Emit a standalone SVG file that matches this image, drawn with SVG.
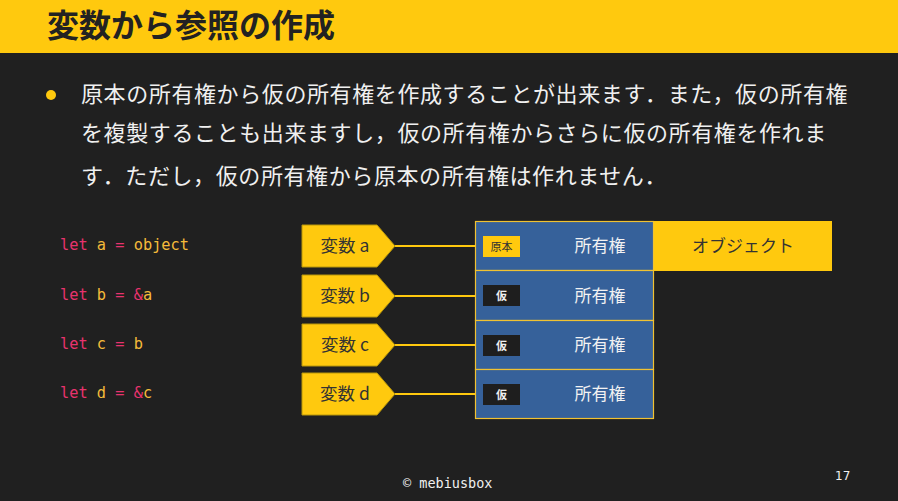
<svg xmlns="http://www.w3.org/2000/svg" width="898" height="501" viewBox="0 0 898 501">
<style>
.jp{font-family:"Noto Sans CJK JP","Noto Sans",sans-serif}
.code{font-family:"DejaVu Sans Mono","Liberation Mono",monospace;font-size:15.3px}
.kw{fill:#e8336e}
.id{fill:#f4bb3a}
.var{fill:#ffc90e;stroke:#b8960a;stroke-width:1}
.vt{font-size:17.5px;fill:#333;text-anchor:middle}
.own{fill:#36619a;stroke:#f1c232;stroke-width:1.2}
.ownt{font-size:17px;fill:#f2f2f2;text-anchor:middle}
.tag{font-size:11px;text-anchor:middle}
.conn{stroke:#ffc90e;stroke-width:2;fill:none}
</style>
<rect width="898" height="501" fill="#202020"/>
<rect x="0" y="0" width="898" height="53" fill="#ffc90e"/>
<text x="47" y="37" class="jp" font-size="32" font-weight="bold" fill="#222">変数から参照の作成</text>
<circle cx="51" cy="95" r="5" fill="#ffc90e"/>
<g class="jp" font-size="22" fill="#f0f0f0" letter-spacing="0.6">
<text x="81" y="102">原本の所有権から仮の所有権を作成することが出来ます．また，仮の所有権</text>
<text x="81" y="141">を複製することも出来ますし，仮の所有権からさらに仮の所有権を作れま</text>
<text x="81" y="184">す．ただし，仮の所有権から原本の所有権は作れません．</text>
</g>
<g id="code" class="code">
<text x="60" y="250"><tspan class="kw">let</tspan><tspan class="id"> a </tspan><tspan class="kw">=</tspan><tspan class="id"> object</tspan></text>
<text x="60" y="300"><tspan class="kw">let</tspan><tspan class="id"> b </tspan><tspan class="kw">= &amp;</tspan><tspan class="id">a</tspan></text>
<text x="60" y="349"><tspan class="kw">let</tspan><tspan class="id"> c </tspan><tspan class="kw">=</tspan><tspan class="id"> b</tspan></text>
<text x="60" y="398"><tspan class="kw">let</tspan><tspan class="id"> d </tspan><tspan class="kw">= &amp;</tspan><tspan class="id">c</tspan></text>
</g>
<g id="connectors">
<line class="conn" x1="395" y1="246" x2="476" y2="246"/>
<line class="conn" x1="395" y1="296" x2="476" y2="296"/>
<line class="conn" x1="395" y1="345" x2="476" y2="345"/>
<line class="conn" x1="395" y1="394" x2="476" y2="394"/>
</g>
<g id="var-a"><path class="var" d="M302 225H377L395 246L377 267H302Z"/><text x="345" y="252" class="jp vt">変数 a</text></g>
<g id="var-b"><path class="var" d="M302 275H377L395 296L377 317H302Z"/><text x="345" y="302" class="jp vt">変数 b</text></g>
<g id="var-c"><path class="var" d="M302 324H377L395 345L377 366H302Z"/><text x="345" y="351" class="jp vt">変数 c</text></g>
<g id="var-d"><path class="var" d="M302 373H377L395 394L377 415H302Z"/><text x="345" y="400" class="jp vt">変数 d</text></g>
<g id="own-a"><rect class="own" x="475.5" y="221.5" width="178" height="49"/><rect x="483" y="236" width="37" height="21" fill="#ffc90e"/><text x="501.5" y="250.5" class="jp tag" fill="#333">原本</text><text x="600" y="252" class="jp ownt">所有権</text></g>
<g id="own-b"><rect class="own" x="475.5" y="270.5" width="178" height="50"/><rect x="483" y="285" width="37" height="21" fill="#1e1e1e"/><text x="501.5" y="299.5" class="jp tag" fill="#f0f0f0" font-weight="bold">仮</text><text x="600" y="302" class="jp ownt">所有権</text></g>
<g id="own-c"><rect class="own" x="475.5" y="320.5" width="178" height="49"/><rect x="483" y="335" width="37" height="21" fill="#1e1e1e"/><text x="501.5" y="349.5" class="jp tag" fill="#f0f0f0" font-weight="bold">仮</text><text x="600" y="351" class="jp ownt">所有権</text></g>
<g id="own-d"><rect class="own" x="475.5" y="369.5" width="178" height="49"/><rect x="483" y="384" width="37" height="21" fill="#1e1e1e"/><text x="501.5" y="398.5" class="jp tag" fill="#f0f0f0" font-weight="bold">仮</text><text x="600" y="400" class="jp ownt">所有権</text></g>
<g id="object"><rect x="654" y="221" width="178" height="50" fill="#ffc90e"/><text x="743" y="252" class="jp" font-size="17" fill="#333" text-anchor="middle">オブジェクト</text></g>
<text x="403" y="488" font-family="DejaVu Sans Mono,monospace" font-size="13.5" fill="#f0f0f0">© mebiusbox</text>
<text x="835" y="480" font-family="DejaVu Sans,sans-serif" font-size="12" fill="#f0f0f0">17</text>
</svg>
